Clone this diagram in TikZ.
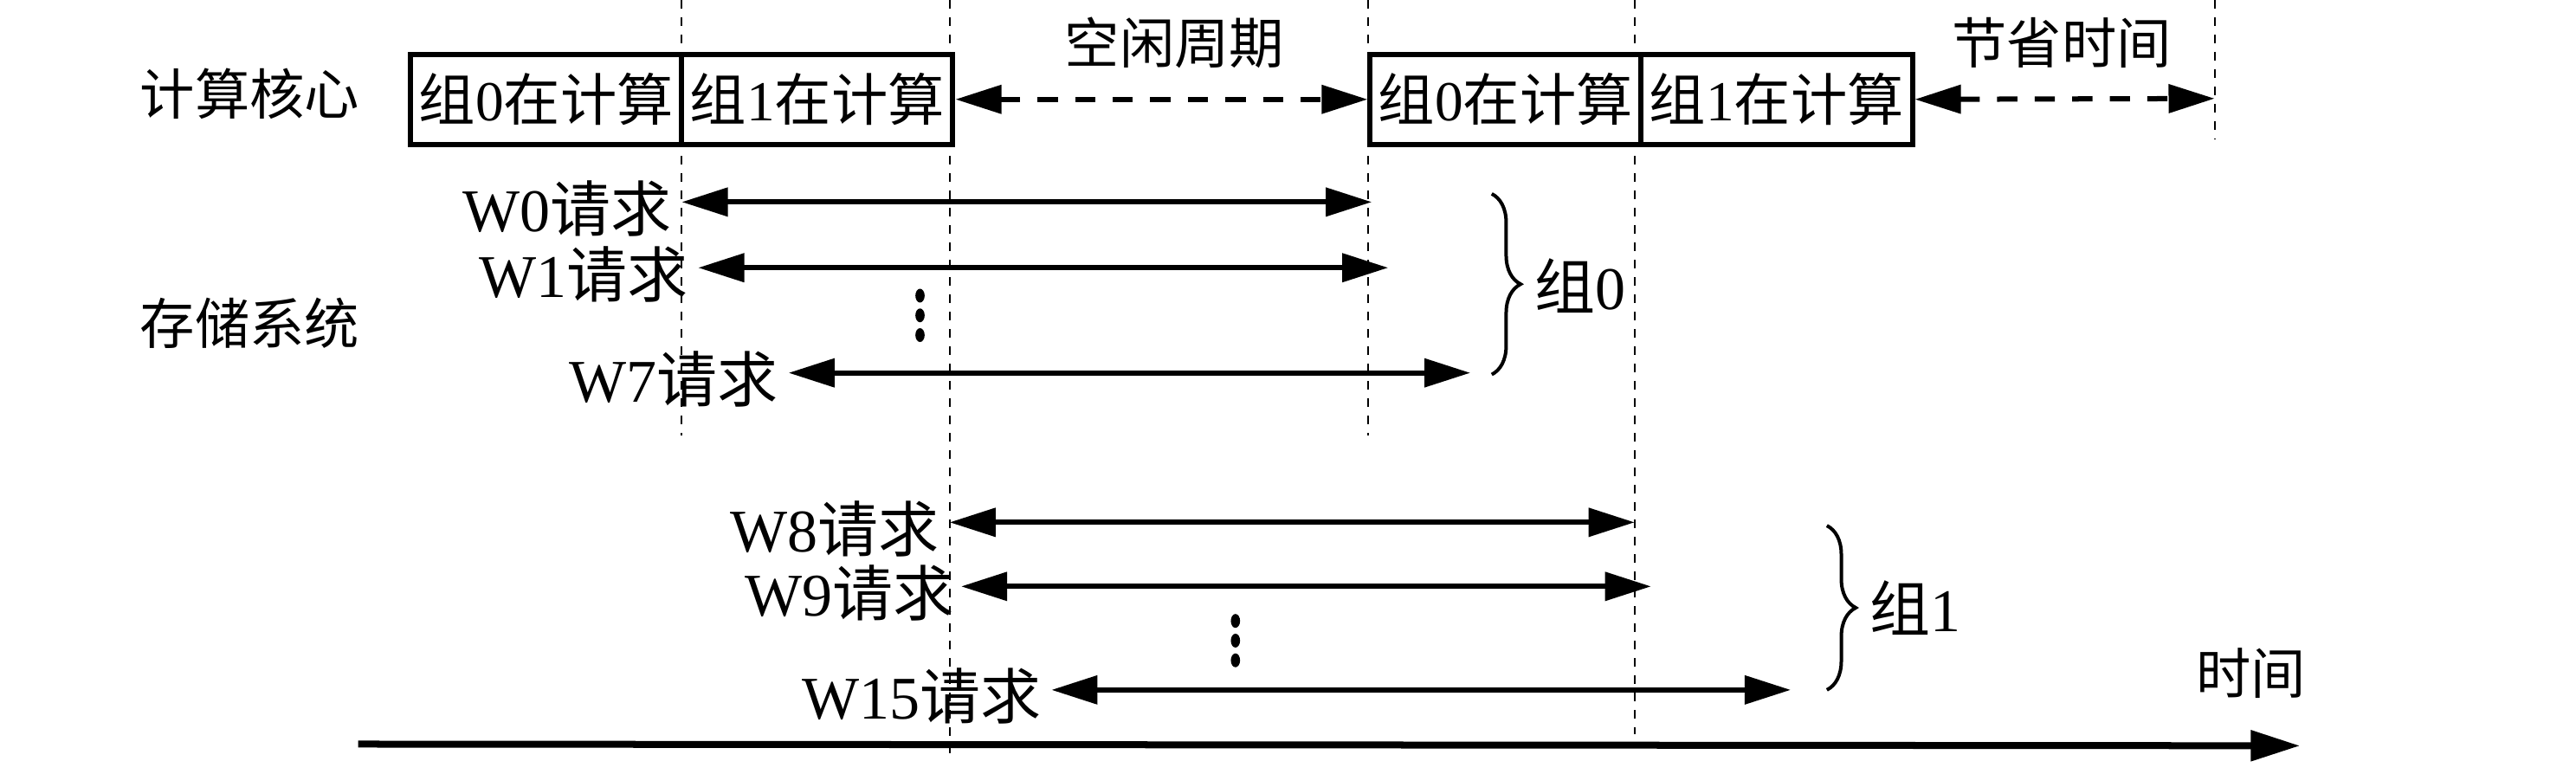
\documentclass[tikz,border=0pt]{standalone}
\usepackage{fontspec}
\setmainfont{Liberation Serif}
\newfontfamily\cjk{Noto Sans CJK SC}
\usetikzlibrary{arrows.meta,decorations.pathreplacing}
\newcommand{\zh}[1]{{\cjk #1}}
\tikzset{
  cell/.style={draw, line width=0.9pt, minimum width=1.65cm, minimum height=0.55cm, inner sep=0pt, font=\fontsize{9.8}{11}\selectfont},
  lbl/.style={inner sep=1pt, font=\fontsize{9.5}{11}\selectfont},
  req/.style={lbl, anchor=east, font=\fontsize{10.5}{12}\selectfont},
  guide/.style={line width=0.3pt, dash pattern=on 1.5pt off 1.5pt},
  span/.style={{Triangle[length=2.8mm,width=1.7mm]}-{Triangle[length=2.8mm,width=1.7mm]}, line width=0.9pt},
  gap/.style={span, dash pattern=on 3.5pt off 3pt},
  dotmark/.style={ellipse, fill, inner sep=0pt, minimum width=1.6pt, minimum height=2.4pt}
}
\usetikzlibrary{shapes.geometric}
\begin{document}
\begin{tikzpicture}
            \useasboundingbox (0,0) rectangle (15.68,4.71);

            \coordinate (t1) at (4.15,4.71);  \coordinate (b1) at (4.15,2.06);
            \coordinate (t2) at (5.78,4.71);  \coordinate (b2) at (5.78,0.09);
            \coordinate (t3) at (8.33,4.71);  \coordinate (b3) at (8.33,2.06);
            \coordinate (t4) at (9.95,4.71);  \coordinate (b4) at (9.95,0.24);
            \coordinate (t5) at (13.48,4.71); \coordinate (b5) at (13.48,3.86);
            \foreach \i in {1,...,5}
                \draw[guide] (t\i) -- (b\i);

            \node[lbl] (core) at (1.52,4.14) {\zh{计算核心}};
            \node[lbl] (mem) at (1.52,2.74) {\zh{存储系统}};

            \node[cell, fill=white] (c00) at (3.325,4.105) {\zh{组}0\zh{在计算}};
            \node[cell, fill=white] (c01) at (4.975,4.105) {\zh{组}1\zh{在计算}};
            \node[cell, fill=white] (c10) at (9.165,4.105) {\zh{组}0\zh{在计算}};
            \node[cell, fill=white] (c11) at (10.815,4.105) {\zh{组}1\zh{在计算}};

            \node[lbl] (idle) at (7.15,4.45) {\zh{空闲周期}};
            \node[lbl] (save) at (12.55,4.45) {\zh{节省时间}};
            \coordinate (saveend) at (13.48,4.11);
            \draw[gap] (c01.east) -- (c10.west);
            \draw[gap] (c11.east) -- (saveend);

            \node[req] (w0) at (4.13,3.44) {W0\zh{请求}};
            \node[req] (w1) at (4.23,3.04) {W1\zh{请求}};
            \node[req] (w7) at (4.78,2.40) {W7\zh{请求}};
            \node[req] (w8) at (5.76,1.49) {W8\zh{请求}};
            \node[req] (w9) at (5.85,1.10) {W9\zh{请求}};
            \node[req] (w15) at (6.38,0.47) {W15\zh{请求}};

            \coordinate (e0) at (8.35,3.48);
            \coordinate (e1) at (8.45,3.08);
            \coordinate (e7) at (8.95,2.44);
            \coordinate (e8) at (9.95,1.53);
            \coordinate (e9) at (10.05,1.14);
            \coordinate (e15) at (10.90,0.51);
            \draw[span] (4.15,3.48) -- (e0);
            \draw[span] (4.25,3.08) -- (e1);
            \draw[span] (4.80,2.44) -- (e7);
            \draw[span] (5.78,1.53) -- (e8);
            \draw[span] (5.85,1.14) -- (e9);
            \draw[span] (6.40,0.51) -- (e15);

            \node[dotmark] at (5.60,2.91) {};
            \node[dotmark] at (5.60,2.79) {};
            \node[dotmark] at (5.60,2.67) {};
            \node[dotmark] at (7.52,0.93) {};
            \node[dotmark] at (7.52,0.81) {};
            \node[dotmark] at (7.52,0.69) {};

            \draw[line width=0.6pt, decorate, decoration={brace, amplitude=5pt}] (9.08,3.53) -- (9.08,2.43);
            \node[lbl, anchor=west, font=\fontsize{10.5}{12}\selectfont] (g0) at (9.30,2.97) {\zh{组}0};
            \draw[line width=0.6pt, decorate, decoration={brace, amplitude=5pt}] (11.12,1.51) -- (11.12,0.51);
            \node[lbl, anchor=west, font=\fontsize{10.5}{12}\selectfont] (g1) at (11.34,1.01) {\zh{组}1};

            \node[lbl] (time) at (13.70,0.61) {\zh{时间}};
            \coordinate (ax0) at (2.18,0.18);
            \coordinate (ax1) at (14.00,0.17);
            \draw[-{Triangle[length=3mm,width=1.8mm]}, line width=1.2pt] (ax0) -- (ax1);
        \end{tikzpicture}
\end{document}
